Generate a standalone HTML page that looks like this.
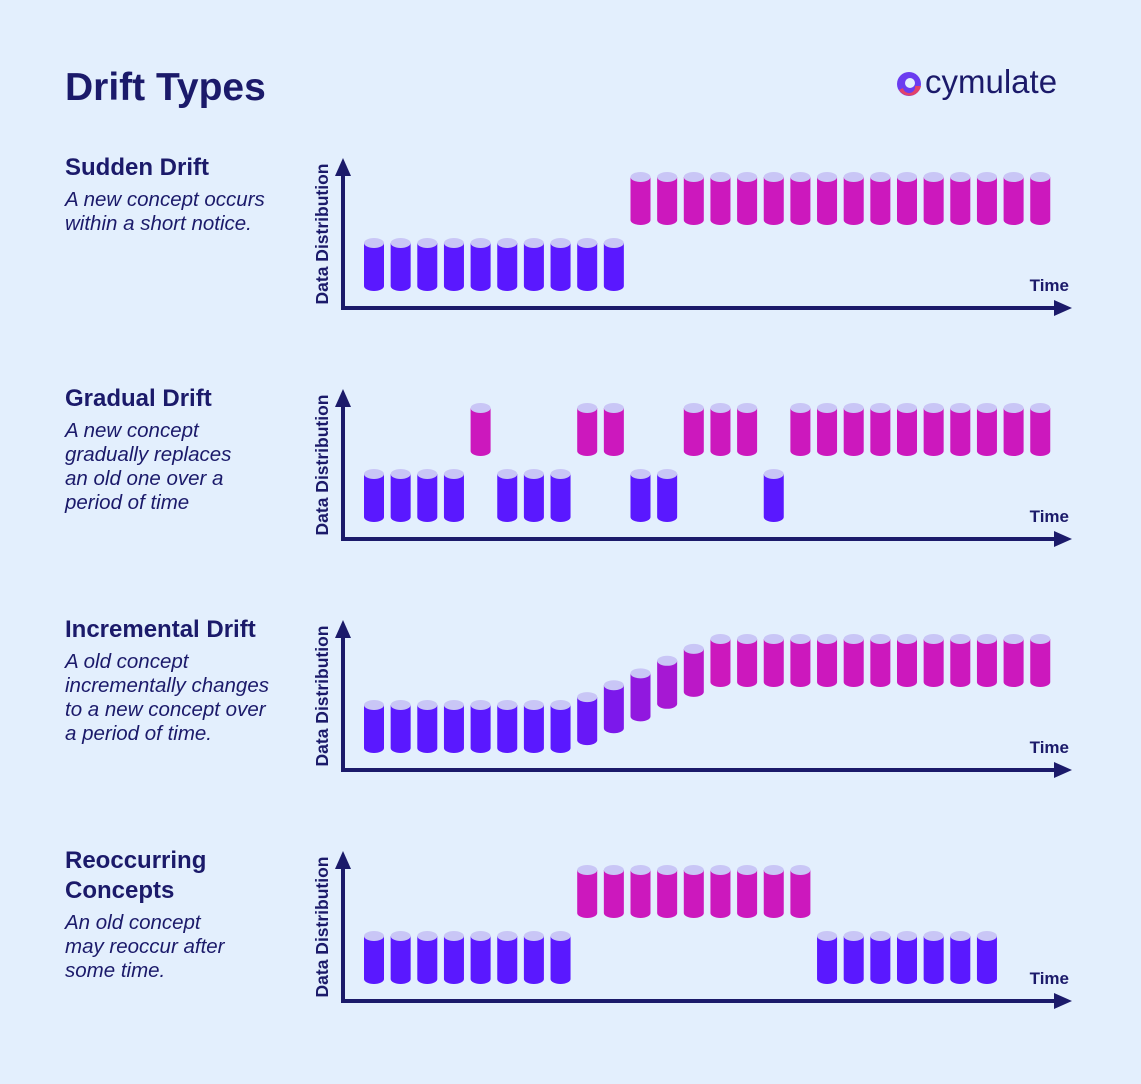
<!DOCTYPE html>
<html><head><meta charset="utf-8"><style>
html,body{margin:0;padding:0;background:#e3effd;}
body{width:1141px;height:1084px;overflow:hidden;font-family:"Liberation Sans",sans-serif;}
svg{display:block}
</style></head><body>
<svg id="s" width="1141" height="1084" viewBox="0 0 1141 1084">
<rect width="1141" height="1084" fill="#e3effd"/>
<text x="65" y="100" font-size="39" font-weight="bold" fill="#1b1a6a">Drift Types</text>
<g>
<circle cx="909" cy="84" r="12" fill="#6b3cf0"/>
<path d="M899 90 A12 12 0 0 0 921 86 L915 86 A6 6 0 0 1 903 88Z" fill="#e2426a"/>
<circle cx="910" cy="83" r="5" fill="#e3effd"/>
<text x="925" y="93" font-size="33" fill="#1b1a6a">cymulate</text>
</g>
<g id="panels"></g>
</svg>
<script>
const categories = Array.from({length:26},(_,i)=>i);
// level per column: 0 = old concept (low), 1 = new concept (high); null = empty
const suddenLevels = [0,0,0,0,0,0,0,0,0,0,1,1,1,1,1,1,1,1,1,1,1,1,1,1,1,1];
const gradualLevels = [0,0,0,0,1,0,0,0,1,1,0,0,1,1,1,0,1,1,1,1,1,1,1,1,1,1];
const incrementalLevels = [0,0,0,0,0,0,0,0,0.12,0.3,0.48,0.67,0.85,1,1,1,1,1,1,1,1,1,1,1,1,1];
const reoccurLevels = [0,0,0,0,0,0,0,0,1,1,1,1,1,1,1,1,1,0,0,0,0,0,0,0,null,null];
const panels = [
 {name:'sudden',levels:suddenLevels,title:['Sudden Drift'],desc:['A new concept occurs','within a short notice.']},
 {name:'gradual',levels:gradualLevels,title:['Gradual Drift'],desc:['A new concept','gradually replaces','an old one over a','period of time']},
 {name:'incremental',levels:incrementalLevels,title:['Incremental  Drift'],desc:['A old concept','incrementally changes','to a new concept over','a period of time.']},
 {name:'reoccurring',levels:reoccurLevels,title:['Reoccurring','Concepts'],desc:['An old concept','may reoccur after','some time.']}
];
const NS='http://www.w3.org/2000/svg';
const root=document.getElementById('panels');
function mk(tag,attrs,parent){const e=document.createElementNS(NS,tag);for(const k in attrs)e.setAttribute(k,attrs[k]);parent.appendChild(e);return e;}
function xScale(i){return 374+i*26.65;}
function yScale(v,axisY){return axisY-65-v*66;}
function mix(a,b,t){const p=s=>[1,3,5].map(j=>parseInt(s.substr(j,2),16));const A=p(a),B=p(b);return 'rgb('+A.map((x,k)=>Math.round(x+(B[k]-x)*t)).join(',')+')';}
panels.forEach((p,pi)=>{
 const axisY=308+pi*231;
 const g=mk('g',{},root);
 
 
 let ty=axisY-133;
 p.title.forEach((t,k)=>{const e=mk('text',{x:65,y:ty+k*30,'font-size':24,'font-weight':'bold',fill:'#1b1a6a'},g);e.textContent=t;
  });
 let dy=ty+(p.title.length-1)*30+31;
 p.desc.forEach((t,k)=>{const e=mk('text',{x:65,y:dy+k*24,'font-size':20.5,'font-style':'italic',fill:'#1b1a6a'},g);e.textContent=t;
  });
 const ax=mk('path',{d:`M343 ${axisY-140} V${axisY} H1060`,fill:'none',stroke:'#1b1a6a','stroke-width':4},g);
 
 mk('path',{d:`M335 ${axisY-132} L343 ${axisY-150} L351 ${axisY-132}Z`,fill:'#1b1a6a'},g);
 mk('path',{d:`M1054 ${axisY-8} L1072 ${axisY} L1054 ${axisY+8}Z`,fill:'#1b1a6a'},g);
 const yl=mk('text',{x:0,y:0,'font-size':17.5,'font-weight':'bold',fill:'#1b1a6a','text-anchor':'middle',transform:`translate(328 ${axisY-74}) rotate(-90)`},g);
 yl.textContent='Data  Distribution';
 const xl=mk('text',{x:1069,y:axisY-17,'font-size':17,'font-weight':'bold',fill:'#1b1a6a','text-anchor':'end'},g);
 xl.textContent='Time';
 categories.forEach(i=>{
  const v=p.levels[i]; if(v===null||v===undefined)return;
  const cx=xScale(i), top=yScale(v,axisY), h=43, w=20, ry=5;
  const col=mix('#5a18ff','#cc18bd',v);
  const c=mk('g',{},g);
  
  
  mk('path',{d:`M${cx-w/2} ${top} V${top+h} A${w/2} ${ry} 0 0 0 ${cx+w/2} ${top+h} V${top}Z`,fill:col},c);
  mk('ellipse',{cx:cx,cy:top,rx:w/2,ry:ry,fill:'#c9c6f6'},c);
 });
});
</script>
</body></html>
